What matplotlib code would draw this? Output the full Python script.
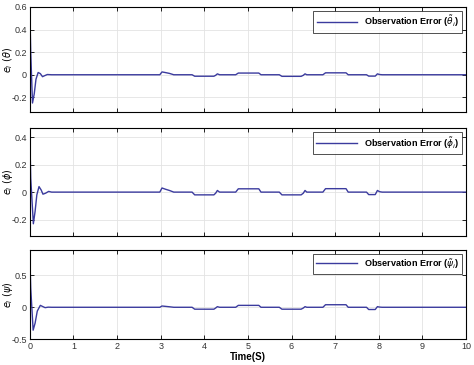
import matplotlib.pyplot as plt
from matplotlib.ticker import FormatStrFormatter

# Valores (pontos-chave de cada curva)
t_theta = [0, 0.02, 0.06, 0.1, 0.14, 0.19, 0.24, 0.29, 0.34, 0.4, 0.5,
           2.98, 3.03, 3.1, 3.2, 3.3, 3.72, 3.78, 4.22, 4.26, 4.3, 4.35,
           4.72, 4.78, 5.25, 5.3, 5.72, 5.78, 6.22, 6.27, 6.31, 6.35,
           6.72, 6.78, 7.25, 7.3, 7.72, 7.77, 7.92, 7.97, 8.02, 8.08, 10]
e_theta = [0.56, 0.2, -0.25, -0.17, -0.04, 0.02, 0.01, -0.017, -0.008, 0.002, 0,
           0, 0.025, 0.02, 0.012, 0, 0, -0.013, -0.013, -0.005, 0.008, 0,
           0, 0.015, 0.015, 0, 0, -0.014, -0.014, -0.005, 0.008, 0,
           0, 0.017, 0.017, 0, 0, -0.012, -0.012, 0.008, 0.002, 0, 0]

t_phi = [0, 0.02, 0.08, 0.12, 0.16, 0.21, 0.26, 0.3, 0.36, 0.43, 0.5,
         2.98, 3.03, 3.1, 3.2, 3.3, 3.72, 3.78, 4.22, 4.26, 4.3, 4.35,
         4.72, 4.78, 5.25, 5.3, 5.72, 5.78, 6.22, 6.27, 6.31, 6.35,
         6.72, 6.78, 7.25, 7.3, 7.72, 7.77, 7.92, 7.97, 8.02, 8.08, 10]
e_phi = [0.39, 0.1, -0.23, -0.14, -0.02, 0.04, 0.015, -0.015, -0.008, 0.005, 0,
         0, 0.03, 0.022, 0.012, 0, 0, -0.02, -0.02, -0.008, 0.012, 0,
         0, 0.024, 0.024, 0, 0, -0.02, -0.02, -0.008, 0.012, 0,
         0, 0.025, 0.025, 0, 0, -0.018, -0.018, 0.012, 0.003, 0, 0]

t_psi = [0, 0.02, 0.075, 0.12, 0.17, 0.24, 0.3, 0.35, 0.42, 0.5,
         2.98, 3.03, 3.1, 3.2, 3.3, 3.72, 3.78, 4.22, 4.26, 4.3, 4.35,
         4.72, 4.78, 5.25, 5.3, 5.72, 5.78, 6.22, 6.27, 6.31, 6.35,
         6.72, 6.78, 7.25, 7.3, 7.72, 7.77, 7.92, 7.97, 8.02, 8.08, 10]
e_psi = [0.78, 0.3, -0.36, -0.25, -0.06, 0.03, 0.01, -0.006, 0.002, 0,
         0, 0.02, 0.015, 0.008, 0, 0, -0.03, -0.03, -0.012, 0.01, 0,
         0, 0.03, 0.03, 0, 0, -0.03, -0.03, -0.012, 0.01, 0,
         0, 0.04, 0.04, 0, 0, -0.035, -0.035, 0.01, 0.003, 0, 0]

series = [
    (t_theta, e_theta, r"$e_i\ (\theta)$", r"Observation Error ($\tilde{\theta}_i$)",
     (-0.33, 0.6), [-0.2, 0, 0.2, 0.4, 0.6]),
    (t_phi, e_phi, r"$e_i\ (\phi)$", r"Observation Error ($\tilde{\phi}_i$)",
     (-0.32, 0.465), [-0.2, 0, 0.2, 0.4]),
    (t_psi, e_psi, r"$e_i\ (\psi)$", r"Observation Error ($\tilde{\psi}_i$)",
     (-0.5, 0.9), [-0.5, 0, 0.5]),
]

plt.rcParams["font.family"] = ["Liberation Sans", "DejaVu Sans"]
plt.rcParams["font.size"] = 6.5

fig = plt.figure(figsize=(4.74, 3.65), dpi=100)
posicoes = [[0.063, 0.693, 0.920, 0.288],
            [0.063, 0.353, 0.920, 0.296],
            [0.063, 0.071, 0.920, 0.244]]

for i, (t, e, ylab, leg, ylim, yticks) in enumerate(series):
    ax = fig.add_axes(posicoes[i])
    ax.plot(t, e, color="#3b3b9e", linewidth=1.0, label=leg)
    ax.set_xlim(0, 10)
    ax.set_ylim(*ylim)
    ax.set_xticks(range(0, 11))
    ax.set_yticks(yticks)
    ax.yaxis.set_major_formatter(FormatStrFormatter("%g"))
    ax.grid(True, color="#e3e3e3", linewidth=0.6)
    ax.tick_params(direction="in", top=True, right=True, length=3,
                   width=0.6, labelcolor="#333333", pad=2)
    for s in ax.spines.values():
        s.set_linewidth(0.8)
    ax.set_ylabel(ylab, fontsize=7, fontweight="bold")
    ax.yaxis.set_label_coords(-0.034, 0.5)
    if i < 2:
        ax.tick_params(labelbottom=False)
    else:
        ax.set_xlabel("Time(S)", fontsize=7, fontweight="bold", labelpad=1)
    lg = ax.legend(loc="upper right", frameon=True, fancybox=False,
                   handlelength=4.5, borderpad=0.35, borderaxespad=0.4,
                   prop={"weight": "bold", "size": 6.5})
    lg.get_frame().set_edgecolor("black")
    lg.get_frame().set_linewidth(0.6)

plt.savefig("out.png", dpi=100)
